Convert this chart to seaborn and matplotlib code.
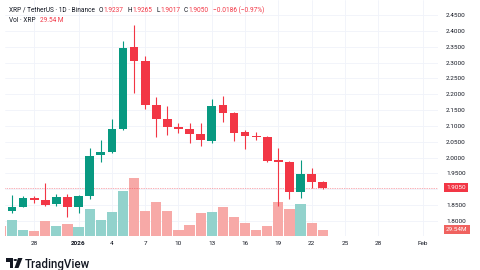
import numpy as np
import pandas as pd
import seaborn as sns
import matplotlib
matplotlib.use('Agg')
import matplotlib.pyplot as plt
import matplotlib.dates as mdates
import matplotlib.transforms as mtransforms
from matplotlib.patches import Rectangle, Circle, Polygon

# daily candles, Dec 25 2025 .. Jan 23 2026 (first one is mostly off the left edge)
dates = pd.date_range('2025-12-25', '2026-01-23', freq='D')
opens  = [1.845, 1.832, 1.845, 1.873, 1.865, 1.853, 1.877, 1.843, 1.880, 2.007,
          2.018, 2.090, 2.348, 2.304, 2.165, 2.123, 2.097, 2.089, 2.075, 2.053,
          2.166, 2.140, 2.080, 2.069, 2.064, 1.993, 1.987, 1.891, 1.948, 1.9237]
highs  = [1.860, 1.882, 1.879, 1.879, 1.921, 1.885, 1.885, 1.882, 2.029, 2.056,
          2.122, 2.369, 2.418, 2.321, 2.191, 2.162, 2.110, 2.110, 2.108, 2.185,
          2.194, 2.143, 2.087, 2.082, 2.068, 2.029, 1.990, 1.993, 1.966, 1.9265]
lows   = [1.820, 1.825, 1.843, 1.856, 1.847, 1.847, 1.812, 1.826, 1.869, 1.985,
          2.016, 2.088, 2.205, 2.153, 2.066, 2.071, 2.079, 2.047, 2.037, 2.047,
          2.113, 2.053, 2.027, 2.056, 1.987, 1.847, 1.870, 1.874, 1.903, 1.9017]
closes = [1.832, 1.843, 1.872, 1.866, 1.852, 1.877, 1.843, 1.879, 2.006, 2.018,
          2.091, 2.347, 2.304, 2.165, 2.123, 2.097, 2.089, 2.076, 2.055, 2.164,
          2.140, 2.079, 2.068, 2.064, 1.990, 1.985, 1.892, 1.948, 1.924, 1.9050]
volumes = [45, 76, 30, 25, 68, 46, 57, 40, 125, 72,
           111, 208, 268, 114, 156, 117, 30, 51, 108, 113,
           134, 88, 62, 30, 45, 157, 125, 148, 60, 29.54]   # millions

price_ticks = [1.80, 1.85, 1.90, 1.95, 2.00, 2.05, 2.10, 2.15, 2.20, 2.25, 2.30, 2.35, 2.40, 2.45]
tick_dates = ['2025-12-28', '2026-01-01', '2026-01-04', '2026-01-07', '2026-01-10', '2026-01-13',
              '2026-01-16', '2026-01-19', '2026-01-22', '2026-01-25', '2026-01-28', '2026-02-01']
tick_labels = ['28', '2026', '4', '7', '10', '13', '16', '19', '22', '25', '28', 'Feb']

last_price = 1.9050
last_vol = 29.54
day_change = -0.0186
day_change_pct = -0.97

UP = '#089981'
DOWN = '#F23645'
UP_VOL = '#92D2CC'
DOWN_VOL = '#F7A9A7'
TXT = '#131722'
GRID = '#F0F3FA'

sns.set_theme(style='white')
plt.rcParams['font.family'] = ['Roboto', 'DejaVu Sans']

W, H = 480, 270
fig = plt.figure(figsize=(4.8, 2.7), dpi=100)
fig.patch.set_facecolor('white')
ax = fig.add_axes([5 / W, 1 - 236 / H, 433 / W, 236 / H])
ax.set_facecolor('white')

x = mdates.date2num(dates.to_pydatetime())
o = np.array(opens); h = np.array(highs); l = np.array(lows); c = np.array(closes)
up = c >= o
col = np.where(up, UP, DOWN)
vcol = np.where(up, UP_VOL, DOWN_VOL)

# volume overlay in the lower part of the pane
VOL_TOP = 1090.0
vol_y = mtransforms.Affine2D().scale(1, 1 / VOL_TOP) + ax.transAxes
vol_trans = mtransforms.blended_transform_factory(ax.transData, vol_y)
ax.bar(x, volumes, width=0.92, bottom=0, color=vcol, transform=vol_trans, zorder=1, linewidth=0)

# candles
ax.vlines(x, l, h, colors=col, linewidth=0.8, zorder=2)
ax.bar(x, np.maximum(np.abs(c - o), 0.002), bottom=np.minimum(o, c), width=0.78,
       color=col, linewidth=0, zorder=3)

ax.axhline(last_price, color=DOWN, linestyle=(0, (1, 1.5)), linewidth=0.5, alpha=0.8, zorder=1.5)

x0 = mdates.date2num(pd.Timestamp('2025-12-26').to_pydatetime())
ax.set_xlim(x0 - 0.63, x0 + 38.38)
ax.set_ylim(1.7528, 2.4973)

tx = mdates.date2num(pd.to_datetime(tick_dates).to_pydatetime())
ax.set_xticks(tx)
ax.set_xticklabels(tick_labels)
ax.set_yticks(price_ticks)
# the 1.9000 label sits under the last-price tag
ax.set_yticklabels(['' if abs(p - 1.90) < 1e-9 else '%.4f' % p for p in price_ticks])
ax.yaxis.tick_right()
ax.tick_params(axis='y', length=0, pad=5.8, labelsize=4.6, labelcolor=TXT)
ax.tick_params(axis='x', length=0, pad=3.5, labelsize=4.6, labelcolor=TXT)
for lab in ax.get_xticklabels():
    if lab.get_text() == '2026':
        lab.set_fontweight('bold')
for lab in ax.get_yticklabels():
    lab.set_horizontalalignment('left')

for p in price_ticks:
    ax.axhline(p, color=GRID, linewidth=0.6, zorder=0)
for t in tx:
    ax.axvline(t, color=GRID, linewidth=0.6, zorder=0)
for s in ax.spines.values():
    s.set_visible(False)

# last price / last volume tags on the scale
ax.annotate('%.4f' % last_price, xy=(1, last_price),
            xycoords=mtransforms.blended_transform_factory(ax.transAxes, ax.transData),
            xytext=(5.8, 0), textcoords='offset points', ha='left', va='center',
            fontsize=4.6, color='white', zorder=10, annotation_clip=False,
            bbox=dict(boxstyle='square,pad=0.35', fc=DOWN, ec='none'))
ax.annotate('%.2fM' % last_vol, xy=(1, last_vol),
            xycoords=mtransforms.blended_transform_factory(ax.transAxes, vol_y),
            xytext=(5.8, 0), textcoords='offset points', ha='left', va='center',
            fontsize=4.6, color='white', zorder=10, annotation_clip=False,
            bbox=dict(boxstyle='square,pad=0.35', fc='#F0625F', ec='none'))

# legend header, each piece placed right after the previous one on a fixed baseline
HFS = 4.7
parts = [('O', TXT, 2.8), ('%.4f' % opens[-1], DOWN, 0.3),
         ('H', TXT, 2.8), ('%.4f' % highs[-1], DOWN, 0.3),
         ('L', TXT, 2.8), ('%.4f' % lows[-1], DOWN, 0.3),
         ('C', TXT, 2.8), ('%.4f' % closes[-1], DOWN, 0.3),
         ('\u2212%.4f (\u2212%.2f%%)' % (abs(day_change), abs(day_change_pct)), DOWN, 2.8)]
base1 = 1 - 12 / H
prev = fig.text(9 / W, base1, 'XRP / TetherUS · 1D · Binance', fontsize=HFS,
                color=TXT, va='baseline')
for txt, cc, gap in parts:
    prev = ax.annotate(txt, xy=(1, base1), xycoords=(prev, 'figure fraction'),
                       xytext=(gap, 0), textcoords='offset points',
                       va='baseline', ha='left', fontsize=HFS, color=cc, annotation_clip=False)
base2 = 1 - 22 / H
v1 = fig.text(9 / W, base2, 'Vol · XRP', fontsize=HFS, color=TXT, va='baseline')
ax.annotate('%.2f M' % last_vol, xy=(1, base2), xycoords=(v1, 'figure fraction'),
            xytext=(2.8, 0), textcoords='offset points',
            va='baseline', ha='left', fontsize=HFS, color=DOWN, annotation_clip=False)

# TradingView mark
def fx(px): return px / W
def fy(py): return 1 - py / H
fig.patches.append(Rectangle((fx(6), fy(262)), fx(13) - fx(6), fy(258) - fy(262),
                             transform=fig.transFigure, fc=TXT, ec='none'))
fig.patches.append(Rectangle((fx(10), fy(268)), fx(13) - fx(10), fy(258) - fy(268),
                             transform=fig.transFigure, fc=TXT, ec='none'))
fig.patches.append(Circle((fx(15.3), fy(260)), 1.8 / W, transform=fig.transFigure, fc=TXT, ec='none'))
fig.patches.append(Polygon([(fx(18), fy(258)), (fx(22.5), fy(258)), (fx(18.5), fy(268)), (fx(14.5), fy(268))],
                           closed=True, transform=fig.transFigure, fc=TXT, ec='none'))
fig.text(fx(25), fy(268), 'TradingView', fontsize=8.3, color=TXT, va='baseline', fontweight='medium')

fig.savefig('out.png', dpi=100, facecolor='white')
